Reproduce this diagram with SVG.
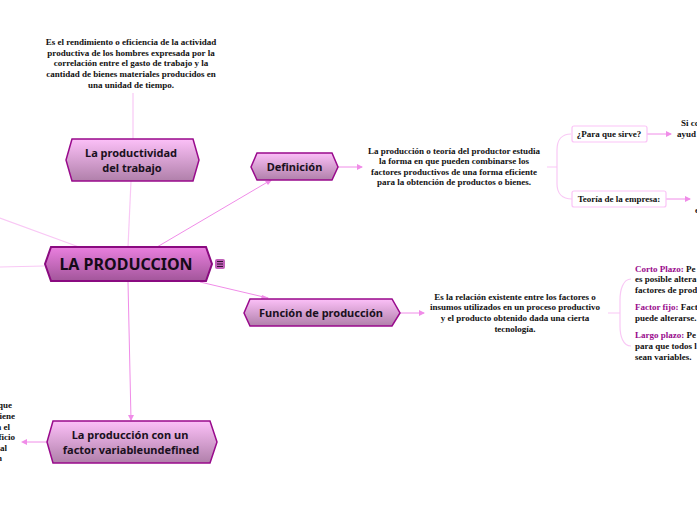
<svg xmlns="http://www.w3.org/2000/svg" width="697" height="520" viewBox="0 0 697 520">
<style>
.t{font-family:"Liberation Serif","Times New Roman",serif;font-size:9px;font-weight:bold;fill:#111;text-anchor:middle}
.l{text-anchor:start}
.p{fill:#990a8c}
.n{font-family:"Noto Sans","Open Sans",sans-serif;font-weight:bold;font-size:11px;fill:#1a1020;text-anchor:middle}
.h{stroke:#990a8c;stroke-width:1.5;fill:url(#g)}
.c{fill:none;stroke:#f08ce8;stroke-width:1}
.c2{fill:none;stroke:#f9c8f5;stroke-width:1.2}
.s{fill:#fff;stroke:#fbc4f7;stroke-width:1.2}
.a{fill:#f08ce8}
</style>
<defs>
<linearGradient id="g" x1="0" y1="0" x2="0" y2="1"><stop offset="0" stop-color="#fcc0f8"/><stop offset="1" stop-color="#b080aa"/></linearGradient>
<linearGradient id="m" x1="0" y1="0" x2="0" y2="1"><stop offset="0" stop-color="#ea7fdf"/><stop offset="1" stop-color="#a2569a"/></linearGradient>
</defs>
<rect width="697" height="520" fill="#fff"/>
<g id="connectors">
<path class="c2" d="M133 93V139"/>
<path class="c2" d="M131 181L128 247"/>
<path class="c2" d="M0 218L79 247"/>
<path class="c2" d="M0 267L44 266"/>
<path class="c" d="M157 247L271 180"/>
<polygon class="a" points="272,180 265,181 268,185"/>
<path class="c" d="M200 282L268 298"/>
<polygon class="a" points="269,298 262,295 261,299"/>
<path class="c" d="M128 282L131 420"/>
<polygon class="a" points="131,421 128,415 134,415"/>
<path class="c" d="M338 167H362"/>
<polygon class="a" points="363,167 357,164 357,170"/>
<path class="c" d="M400 313H424"/>
<polygon class="a" points="425,313 419,310 419,316"/>
<path class="c" d="M47 442H24"/>
<polygon class="a" points="21,442 27,439 27,445"/>
<path class="c" d="M647 134H671"/>
<polygon class="a" points="672,134 666,131 666,137"/>
<path class="c" d="M666 199H690"/>
<polygon class="a" points="691,199 685,196 685,202"/>
<path class="c2" d="M547 167H557M571 134C562 134 557 140 557 150V184C557 193 562 199 572 199"/>
<path class="c2" d="M608 313H620M631 279C623 279 620 290 620 300V326C620 336 623 346 631 346"/>
</g>
<g id="n1"><text class="t"><tspan x="131" y="45">Es el rendimiento o eficiencia de la actividad</tspan><tspan x="131" y="56">productiva de los hombres expresada por la</tspan><tspan x="131" y="66">correlación entre el gasto de trabajo y la</tspan><tspan x="131" y="77">cantidad de bienes materiales producidos en</tspan><tspan x="131" y="88">una unidad de tiempo.</tspan></text></g>
<g id="n2"><polygon class="h" points="72,139 193,139 199,160 193,181 72,181 66,160"/><text class="n"><tspan x="131" y="157">La productividad</tspan><tspan x="132" y="172">del trabajo</tspan></text></g>
<g id="n3"><polygon class="h" points="257,153 332,153 338,167 332,180 257,180 251,167"/><text class="n" x="294.500" y="171">Definición</text></g>
<g id="n4"><text class="t"><tspan x="454" y="154">La producción o teoría del productor estudia</tspan><tspan x="454" y="164">la forma en que pueden combinarse los</tspan><tspan x="454" y="175">factores productivos de una forma eficiente</tspan><tspan x="454" y="185">para la obtención de productos o bienes.</tspan></text></g>
<g id="n5"><rect class="s" x="572" y="126" width="75" height="16" rx="2"/><text class="t" x="609" y="137">¿Para que sirve?</text></g>
<g id="n6"><rect class="s" x="572" y="191" width="94" height="16" rx="2"/><text class="t" x="619" y="202">Teoría de la empresa:</text></g>
<g id="n7"><text class="t l"><tspan x="681" y="126">Si co</tspan><tspan x="677" y="137">ayud</tspan><tspan x="695" y="213">e</tspan></text></g>
<g id="n8"><polygon class="h" points="51,247 206,247 212,264 206,281 51,281 45,264" style="fill:url(#m);stroke:#8a0a80;stroke-width:2"/><text x="126" y="270" text-anchor="middle" style="font-family:'Noto Sans','Open Sans',sans-serif;font-weight:bold;font-size:16px;fill:#150a18">LA PRODUCCION</text><rect x="215" y="259" width="10" height="10" rx="2" fill="#c060b8"/><path d="M217 261.500H223M217 264H223M217 266.500H223" stroke="#301030" stroke-width="1"/></g>
<g id="n9"><polygon class="h" points="250,299 392,299 400,313 392,326 250,326 244,313" /><text class="n" x="321" y="317">Función de producción</text></g>
<g id="n10"><text class="t"><tspan x="515" y="300">Es la relación existente entre los factores o</tspan><tspan x="515" y="310">insumos utilizados en un proceso productivo</tspan><tspan x="515" y="321">y el producto obtenido dada una cierta</tspan><tspan x="515" y="332">tecnología.</tspan></text></g>
<g id="n11"><text class="t l"><tspan x="635" y="272" class="p">Corto Plazo:</tspan><tspan> Pe</tspan><tspan x="635" y="282">es posible altera</tspan><tspan x="635" y="293">factores de prod</tspan><tspan x="635" y="310" class="p">Factor fijo:</tspan><tspan> Fact</tspan><tspan x="635" y="321">puede alterarse.</tspan><tspan x="635" y="338" class="p">Largo plazo:</tspan><tspan> Pe</tspan><tspan x="635" y="349">para que todos l</tspan><tspan x="635" y="360">sean variables.</tspan></text></g>
<g id="n12"><polygon class="h" points="53,421 210,421 217,442 210,463 53,463 47,442"/><text class="n"><tspan x="130" y="439">La producción con un</tspan><tspan x="131" y="454">factor variableundefined</tspan></text></g>
<g id="n13"><text class="t" style="text-anchor:end"><tspan x="12" y="408">que</tspan><tspan x="15" y="419">iene</tspan><tspan x="10" y="430">n el</tspan><tspan x="15" y="440">ficio</tspan><tspan x="7" y="451">al</tspan><tspan x="2" y="461">n</tspan></text></g>
</svg>
